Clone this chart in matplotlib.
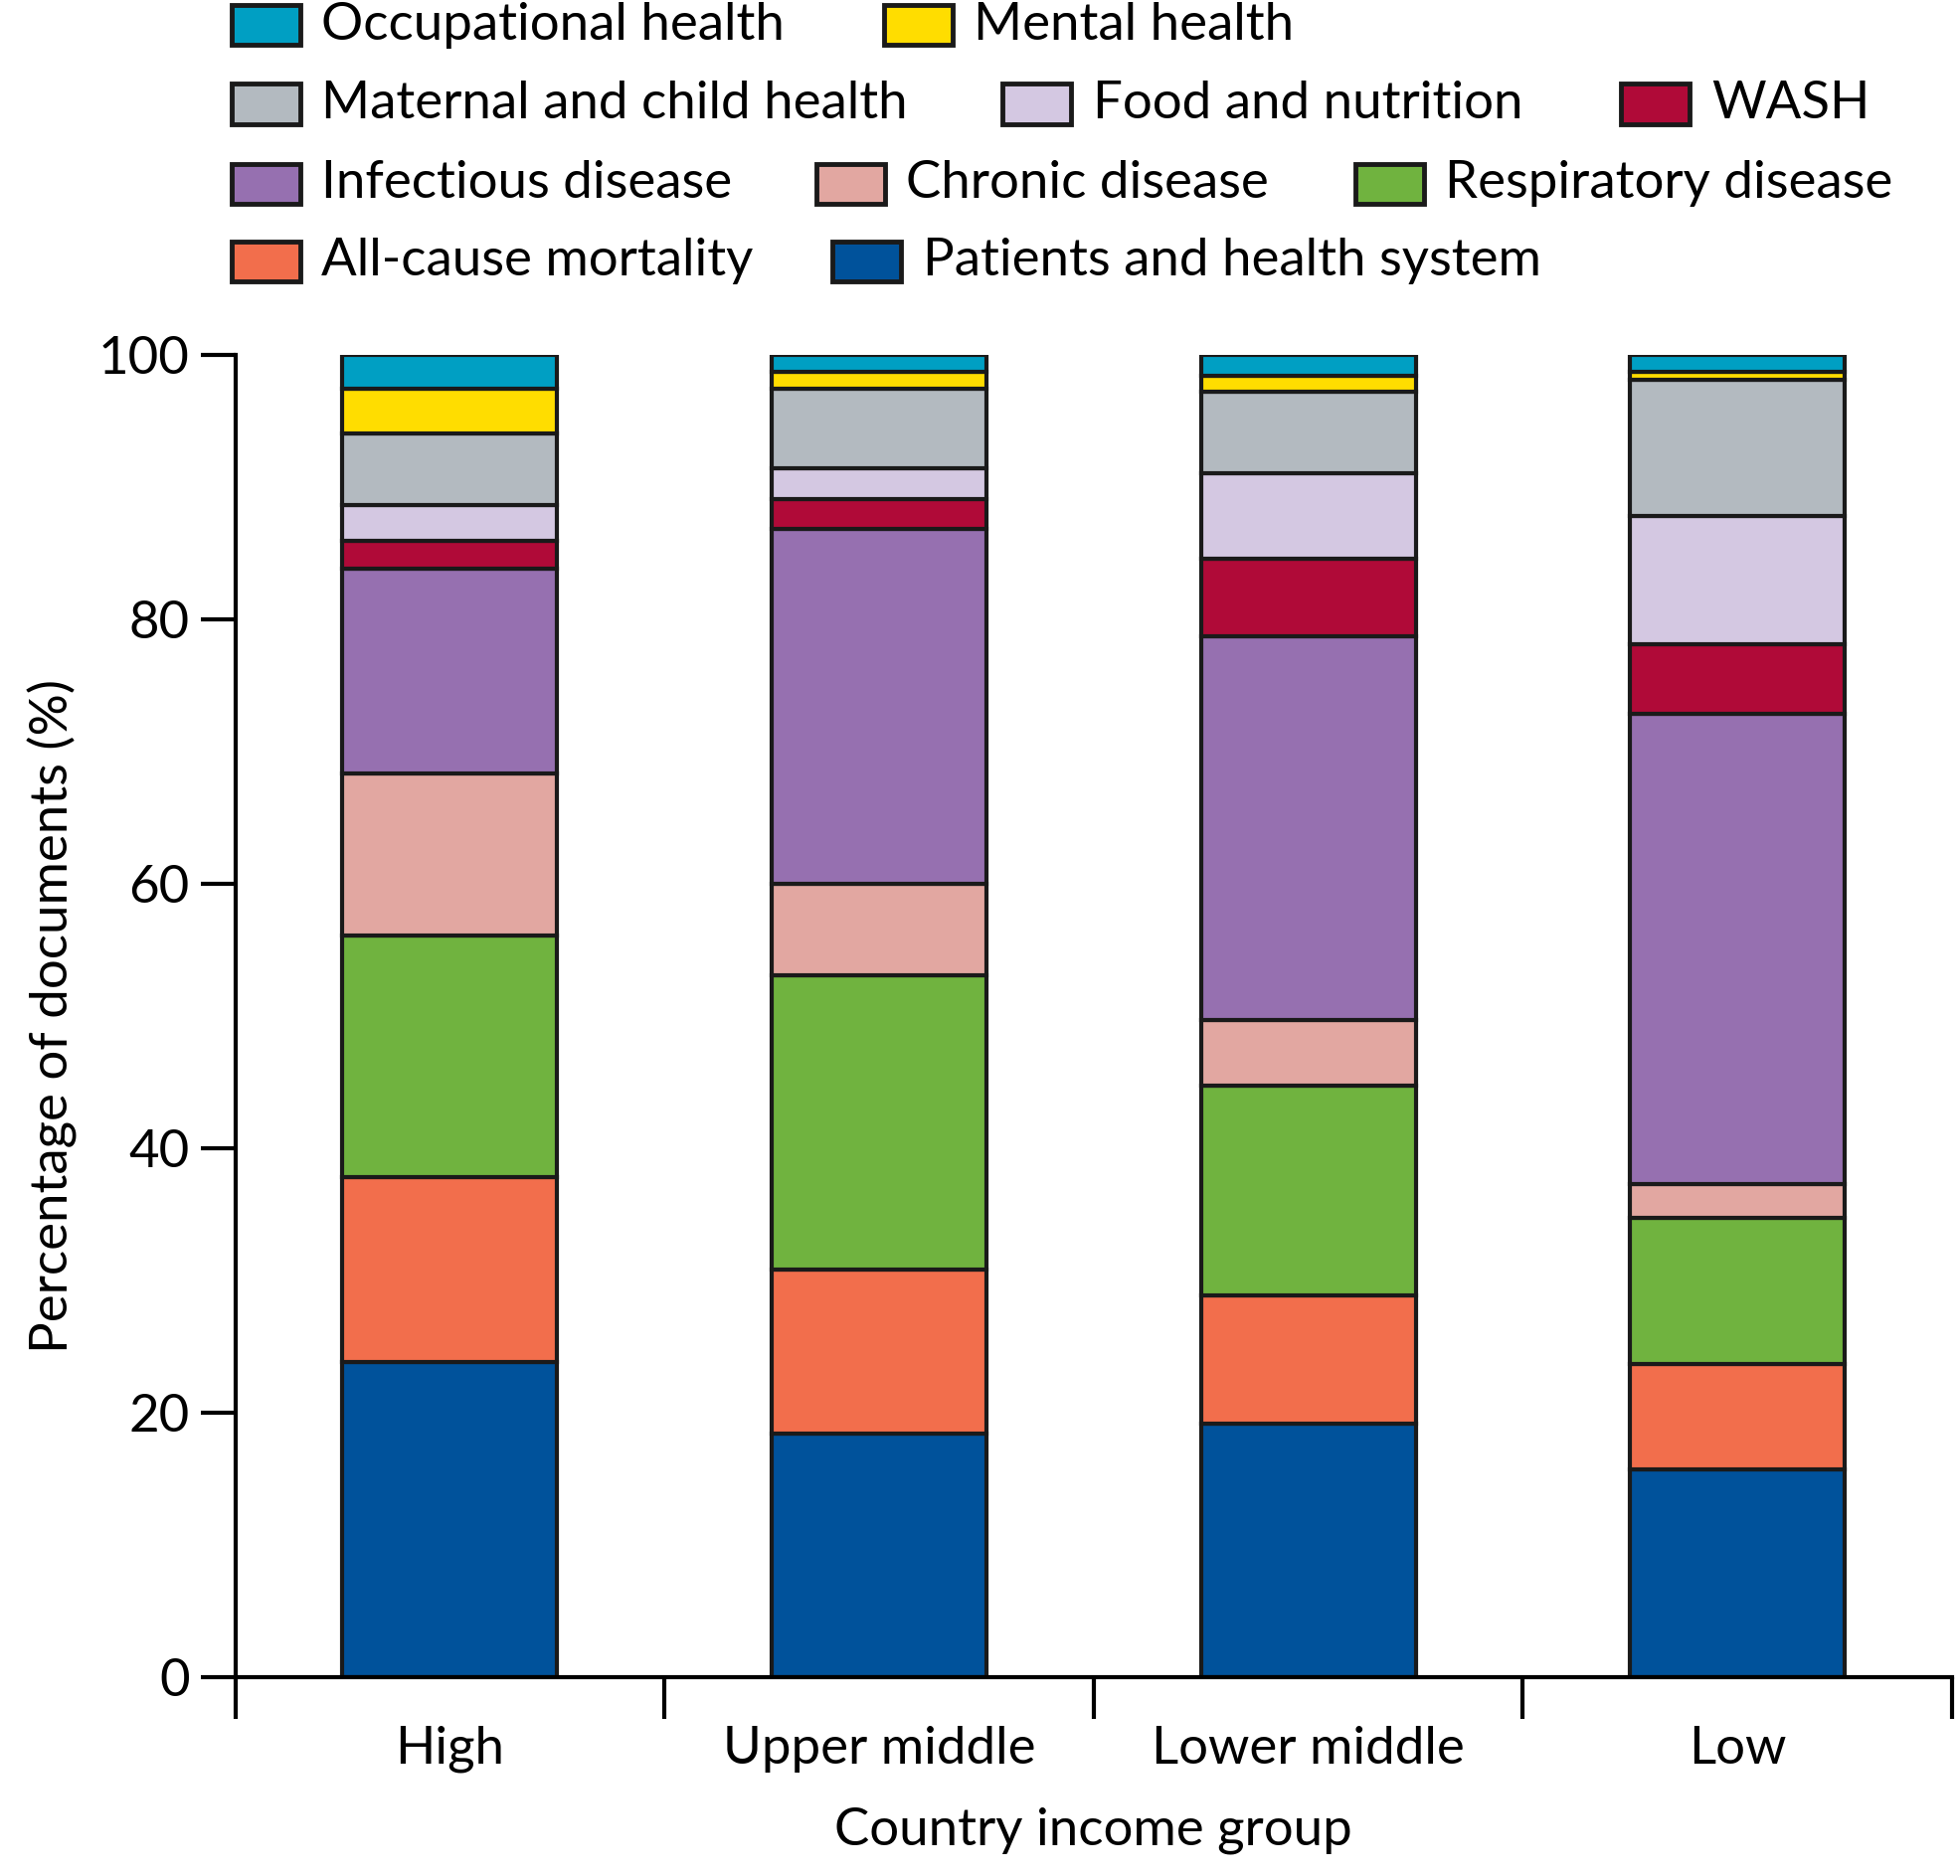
import numpy as np
import matplotlib
matplotlib.use("Agg")
import matplotlib.pyplot as plt
from matplotlib.patches import Rectangle

plt.rcParams["font.family"] = "Lato"

groups = ["High", "Upper middle", "Lower middle", "Low"]
categories = ["Patients and health system", "All-cause mortality", "Respiratory disease",
              "Chronic disease", "Infectious disease", "WASH", "Food and nutrition",
              "Maternal and child health", "Mental health", "Occupational health"]
colors = ["#00529b", "#f26e4c", "#70b33f", "#e2a7a1", "#9670b0", "#b00a38",
          "#d4c8e2", "#b3bac0", "#ffdd00", "#009fc3"]

# segment sizes (%) per group, bottom to top
patients = [23.8, 18.4, 19.2, 15.7]
all_cause = [14.0, 12.4, 9.7, 8.0]
respiratory = [18.3, 22.3, 15.8, 11.0]
chronic = [12.2, 6.9, 5.0, 2.6]
infectious = [15.5, 26.8, 29.0, 35.5]
wash = [2.1, 2.3, 5.9, 5.3]
food = [2.7, 2.3, 6.4, 9.7]
maternal = [5.4, 6.0, 6.2, 10.3]
mental = [3.4, 1.3, 1.2, 0.6]
occupational = [2.6, 1.3, 1.6, 1.3]

series = [patients, all_cause, respiratory, chronic, infectious, wash, food,
          maternal, mental, occupational]

fig = plt.figure(figsize=(19.71, 18.87), dpi=100)
ax = fig.add_axes([0.12, 0.106, 0.876, 0.705])

x = np.arange(len(groups)) + 0.5
bottom = np.zeros(len(groups))
for vals, c in zip(series, colors):
    ax.bar(x, vals, width=0.5, bottom=bottom, color=c, edgecolor="#1a1a1a", linewidth=3)
    bottom += np.array(vals)

ax.set_xlim(0, 4)
ax.set_ylim(0, 100)
ax.set_xticks([0, 1, 2, 3, 4])
ax.set_xticklabels([])
ax.set_xticks(x, minor=True)
ax.set_xticklabels(groups, minor=True, fontsize=38)
ax.tick_params(axis="x", which="major", length=30, width=3, direction="out")
ax.tick_params(axis="x", which="minor", length=0, pad=35)
ax.set_yticks(range(0, 101, 20))
ax.tick_params(axis="y", length=25, width=3, labelsize=38, pad=8)
for s in ["top", "right"]:
    ax.spines[s].set_visible(False)
for s in ["left", "bottom"]:
    ax.spines[s].set_linewidth(3)
ax.set_ylabel("Percentage of documents (%)", fontsize=38, labelpad=15)
ax.set_xlabel("Country income group", fontsize=38, labelpad=25)

# legend rows laid out as in the reference
rows = [
    [(185, "Occupational health"), (707, "Mental health")],
    [(185, "Maternal and child health"), (802, "Food and nutrition"), (1297, "WASH")],
    [(185, "Infectious disease"), (653, "Chronic disease"), (1084, "Respiratory disease")],
    [(185, "All-cause mortality"), (666, "Patients and health system")],
]
row_y = [20, 83, 147, 209]
W, H = 1568.0, 1500.0
for yc, row in zip(row_y, rows):
    for xp, name in row:
        c = colors[categories.index(name)]
        fig.patches.append(Rectangle((xp / W, 1 - (yc + 16) / H), 55 / W, 32 / H,
                                     transform=fig.transFigure, facecolor=c,
                                     edgecolor="#1a1a1a", linewidth=3.5))
        fig.text((xp + 72) / W, 1 - yc / H, name, fontsize=38, va="center", ha="left")

fig.savefig("out.png", dpi=100)
